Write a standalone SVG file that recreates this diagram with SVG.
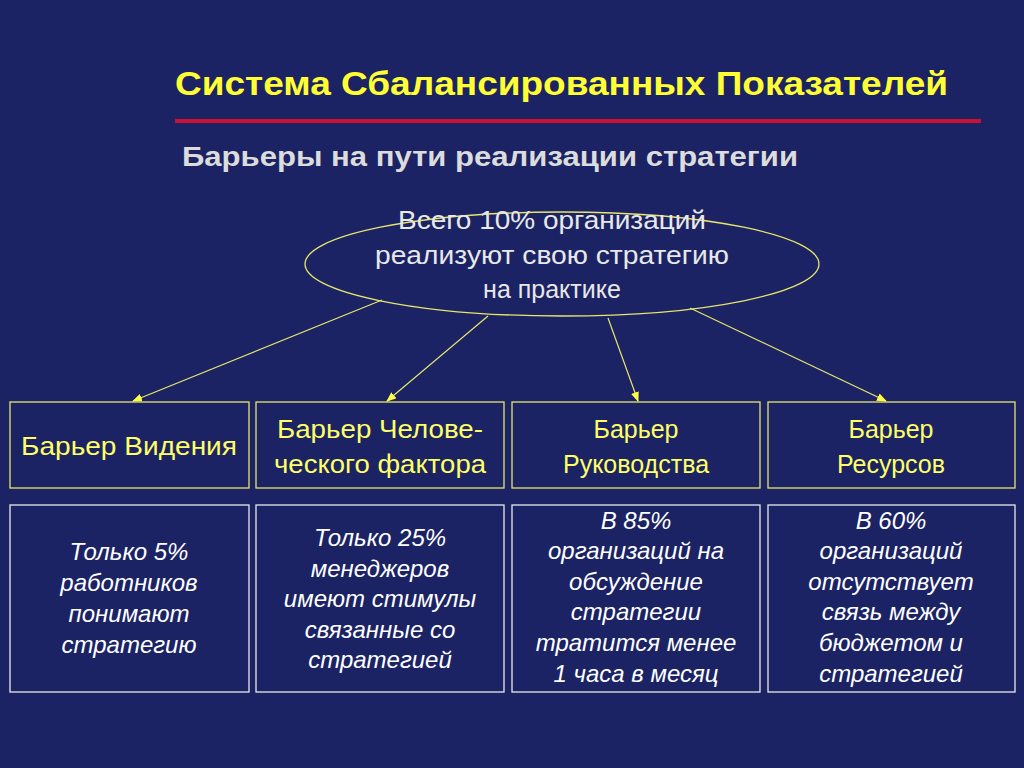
<svg xmlns="http://www.w3.org/2000/svg" width="1024" height="768" viewBox="0 0 1024 768">
<style>
.t{font-family:"Liberation Sans",Arial,sans-serif;}
.h{fill:#e8e8e8;font-size:25px;text-anchor:middle}
.y{fill:#ffff66;font-size:25px;text-anchor:middle}
.w{fill:#ffffff;font-size:24px;font-style:italic;text-anchor:middle}
.bx{fill:none;stroke:#e6e66a;stroke-width:1.3}
.bw{fill:none;stroke:#e8e8e8;stroke-width:1.3}
.c{stroke:#e6e66a;stroke-width:1.2;fill:none;marker-end:url(#a)}
</style>
<defs><marker id="a" markerWidth="10" markerHeight="8" refX="9" refY="4" orient="auto" markerUnits="userSpaceOnUse"><path d="M0,0 L10,4 L0,8 Z" fill="#ffff44"/></marker></defs>
<rect width="1024" height="768" fill="#1b2364"/>
<text class="t" x="175" y="95" font-size="34" font-weight="bold" fill="#ffff33" textLength="773" lengthAdjust="spacingAndGlyphs">Система Сбалансированных Показателей</text>
<rect x="175" y="119" width="806" height="4" fill="#cc1133"/>
<text class="t" x="182" y="166" font-size="27" font-weight="bold" fill="#dcdcdc" textLength="616" lengthAdjust="spacingAndGlyphs">Барьеры на пути реализации стратегии</text>
<g id="top"><ellipse cx="562" cy="264" rx="257" ry="52" fill="none" stroke="#e6e66a" stroke-width="1.3"/>
<text class="t h" x="552" y="229" textLength="308" lengthAdjust="spacingAndGlyphs">Всего 10% организаций</text>
<text class="t h" x="552" y="264" textLength="354" lengthAdjust="spacingAndGlyphs">реализуют свою стратегию</text>
<text class="t h" x="552" y="298">на практике</text></g>
<g id="connectors">
<line class="c" x1="382" y1="300" x2="133" y2="401"/>
<line class="c" x1="488" y1="316" x2="387" y2="401"/>
<line class="c" x1="608" y1="318" x2="638" y2="401"/>
<line class="c" x1="690" y1="308" x2="886" y2="401"/>
</g>
<g id="b1"><rect class="bx" x="10" y="402" width="239" height="86"/><text class="t y" x="129" y="455" textLength="216" lengthAdjust="spacingAndGlyphs">Барьер  Видения</text></g>
<g id="b2"><rect class="bx" x="256" y="402" width="248" height="86"/><text class="t y" x="380" y="438" textLength="206" lengthAdjust="spacingAndGlyphs">Барьер  Челове-</text><text class="t y" x="380" y="473" textLength="212" lengthAdjust="spacingAndGlyphs">ческого  фактора</text></g>
<g id="b3"><rect class="bx" x="512" y="402" width="248" height="86"/><text class="t y" x="636" y="438">Барьер</text><text class="t y" x="636" y="473">Руководства</text></g>
<g id="b4"><rect class="bx" x="768" y="402" width="247" height="86"/><text class="t y" x="891" y="438">Барьер</text><text class="t y" x="891" y="473">Ресурсов</text></g>
<g id="d1"><rect class="bw" x="10" y="505" width="239" height="187"/>
<text class="t w" x="129" y="560">Только 5%</text><text class="t w" x="129" y="591">работников</text><text class="t w" x="129" y="622">понимают</text><text class="t w" x="129" y="653">стратегию</text></g>
<g id="d2"><rect class="bw" x="256" y="505" width="248" height="187"/>
<text class="t w" x="380" y="546">Только 25%</text><text class="t w" x="380" y="577">менеджеров</text><text class="t w" x="380" y="607">имеют стимулы</text><text class="t w" x="380" y="638">связанные со</text><text class="t w" x="380" y="668">стратегией</text></g>
<g id="d3"><rect class="bw" x="512" y="505" width="248" height="187"/>
<text class="t w" x="636" y="529">В 85%</text><text class="t w" x="636" y="559">организаций на</text><text class="t w" x="636" y="590">обсуждение</text><text class="t w" x="636" y="620">стратегии</text><text class="t w" x="636" y="651">тратится менее</text><text class="t w" x="636" y="682">1 часа в месяц</text></g>
<g id="d4"><rect class="bw" x="768" y="505" width="247" height="187"/>
<text class="t w" x="891" y="529">В 60%</text><text class="t w" x="891" y="559">организаций</text><text class="t w" x="891" y="590">отсутствует</text><text class="t w" x="891" y="620">связь между</text><text class="t w" x="891" y="651">бюджетом и</text><text class="t w" x="891" y="682">стратегией</text></g>
</svg>
